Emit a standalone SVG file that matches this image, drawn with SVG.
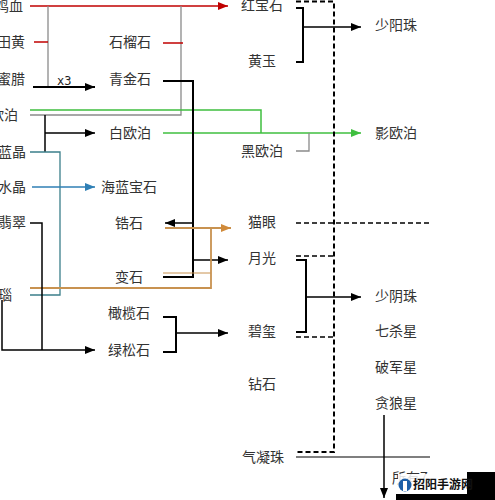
<svg xmlns="http://www.w3.org/2000/svg" width="495" height="500" viewBox="0 0 495 500">
<style>
text{font-family:"Noto Sans CJK SC","Noto Sans",sans-serif;font-size:14px;fill:#333;}
.l{text-anchor:end}
.c{text-anchor:middle}
.k{fill:none;stroke:#000;stroke-width:2}
.g{fill:none;stroke:#8a8a8a;stroke-width:1.3}
.r{fill:none;stroke:#c00000;stroke-width:1.5}
.gr{fill:none;stroke:#3fbf3f;stroke-width:1.5}
.bl{fill:none;stroke:#2f7fb5;stroke-width:1.5}
.tl{fill:none;stroke:#3b7f8a;stroke-width:1.3}
.tn{fill:none;stroke:#c89250;stroke-width:1.8}
.d{fill:none;stroke:#000;stroke-width:1.3;stroke-dasharray:5,3}
.dd{fill:none;stroke:#000;stroke-width:2;stroke-dasharray:5,3}
</style>
<defs>
<marker id="ak" viewBox="0 0 10 8" refX="10" refY="4" markerWidth="10" markerHeight="8" markerUnits="userSpaceOnUse" orient="auto"><path d="M0,0L10,4L0,8z" fill="#000"/></marker>
<marker id="ar" viewBox="0 0 10 8" refX="10" refY="4" markerWidth="10" markerHeight="8" markerUnits="userSpaceOnUse" orient="auto"><path d="M0,0L10,4L0,8z" fill="#c00000"/></marker>
<marker id="ag" viewBox="0 0 10 8" refX="10" refY="4" markerWidth="10" markerHeight="8" markerUnits="userSpaceOnUse" orient="auto"><path d="M0,0L10,4L0,8z" fill="#3fbf3f"/></marker>
<marker id="ab" viewBox="0 0 10 8" refX="10" refY="4" markerWidth="10" markerHeight="8" markerUnits="userSpaceOnUse" orient="auto"><path d="M0,0L10,4L0,8z" fill="#2f7fb5"/></marker>
<marker id="ao" viewBox="0 0 10 8" refX="10" refY="4" markerWidth="10" markerHeight="8" markerUnits="userSpaceOnUse" orient="auto"><path d="M0,0L10,4L0,8z" fill="#d08a3a"/></marker>
</defs>
<rect width="495" height="500" fill="#fff"/>
<g id="connectors">
<!-- red: 鸡血 -> 红宝石 -->
<path class="r" d="M30,6H228" marker-end="url(#ar)"/>
<path class="g" d="M48,6V87"/>
<path class="r" d="M34,42H48"/>
<path class="k" d="M33,87H95" marker-end="url(#ak)"/>
<text x="57" y="85" style="font-family:'DejaVu Sans Mono','Liberation Mono',monospace;font-size:12px;fill:#222">x3</text>
<path class="g" d="M30,115H181V6"/>
<path class="r" d="M163,43H183"/>
<!-- green 欧泊 -->
<path class="gr" d="M30,110H261V133"/>
<path class="gr" d="M163,133H361" marker-end="url(#ag)"/>
<path class="g" d="M296,151H309V133"/>
<!-- 欧泊 -> 白欧泊 -->
<path class="k" d="M45,115V152" style="stroke-width:1.5"/>
<path class="k" d="M45,133H95" style="stroke-width:1.5" marker-end="url(#ak)"/>
<!-- 蓝晶 -->
<path class="tl" d="M30,152H60V295H30"/>
<!-- 水晶 -> 海蓝宝石 -->
<path class="bl" d="M32,187H95" marker-end="url(#ab)"/>
<!-- 青金石 -->
<path class="k" d="M163,81H193V277H163"/>
<path class="k" d="M193,223H165" style="stroke-width:1.5" marker-end="url(#ak)"/>
<path class="k" d="M193,260H228" style="stroke-width:1.5" marker-end="url(#ak)"/>
<!-- tan: 玛瑙 / 锆石 / 变石 -->
<path class="tn" d="M30,288H211V228"/>
<path class="tn" d="M165,228H231" marker-end="url(#ao)"/>
<path class="tn" d="M163,273H211" style="stroke-width:1"/>
<!-- 翡翠 -->
<path class="k" d="M30,223H42V350" style="stroke-width:1.5"/>
<path class="k" d="M2,300V350H95" style="stroke-width:1.5" marker-end="url(#ak)"/>
<!-- 橄榄石 / 绿松石 -->
<path class="k" d="M163,317H176V352H163"/>
<path class="k" d="M176,333H228" style="stroke-width:1.5" marker-end="url(#ak)"/>
<!-- 红宝石/黄玉 -->
<path class="k" d="M296,8H303V62H296"/>
<path class="k" d="M303,27H361" style="stroke-width:1.5" marker-end="url(#ak)"/>
<!-- dashed -->
<path class="dd" d="M296,1.5H334V452H296"/>
<path class="d" d="M296,223H430"/>
<path class="d" d="M296,256H334"/>
<path class="d" d="M296,337H334"/>
<!-- 月光/碧玺 -->
<path class="k" d="M296,260H306V332H296"/>
<path class="k" d="M306,297H361" style="stroke-width:1.5" marker-end="url(#ak)"/>
<!-- 气凝珠 -->
<path class="g" d="M296,457H430" style="stroke:#555"/>
<!-- 贪狼星 down -->
<path class="k" d="M384,415V498" style="stroke-width:1.5" marker-end="url(#ak)"/>
</g>
<g id="n-jixue"><text class="l" x="23" y="11">鸡血</text></g>
<g id="n-tianhuang"><text class="l" x="25" y="47">田黄</text></g>
<g id="n-mila"><text class="l" x="25" y="84">蜜腊</text></g>
<g id="n-oubo"><text class="l" x="18" y="120">欧泊</text></g>
<g id="n-lanjing"><text class="l" x="26" y="157">蓝晶</text></g>
<g id="n-shuijing"><text class="l" x="26" y="192">水晶</text></g>
<g id="n-feicui"><text class="l" x="26" y="227">翡翠</text></g>
<g id="n-manao"><text class="l" x="12" y="300">玛瑙</text></g>
<g id="n-shiliushi"><text class="c" x="130" y="47">石榴石</text></g>
<g id="n-qingjinshi"><text class="c" x="130" y="84">青金石</text></g>
<g id="n-baioubo"><text class="c" x="130" y="138">白欧泊</text></g>
<g id="n-hailanbaoshi"><text class="c" x="129" y="192">海蓝宝石</text></g>
<g id="n-gaoshi"><text class="c" x="129" y="228">锆石</text></g>
<g id="n-bianshi"><text class="c" x="129" y="282">变石</text></g>
<g id="n-ganlanshi"><text class="c" x="129" y="318">橄榄石</text></g>
<g id="n-lvsongshi"><text class="c" x="129" y="355">绿松石</text></g>
<g id="n-hongbaoshi"><text class="c" x="262" y="10">红宝石</text></g>
<g id="n-huangyu"><text class="c" x="262" y="66">黄玉</text></g>
<g id="n-heioubo"><text class="c" x="262" y="156">黑欧泊</text></g>
<g id="n-maoyan"><text class="c" x="262" y="227">猫眼</text></g>
<g id="n-yueguang"><text class="c" x="262" y="263">月光</text></g>
<g id="n-bixi"><text class="c" x="262" y="336">碧玺</text></g>
<g id="n-zuanshi"><text class="c" x="262" y="389">钻石</text></g>
<g id="n-qiningzhu"><text class="c" x="263" y="462">气凝珠</text></g>
<g id="n-shaoyangzhu"><text class="c" x="396" y="30">少阳珠</text></g>
<g id="n-yingoubo"><text class="c" x="396" y="138">影欧泊</text></g>
<g id="n-shaoyinzhu"><text class="c" x="396" y="301">少阴珠</text></g>
<g id="n-qishaxing"><text class="c" x="396" y="336">七杀星</text></g>
<g id="n-pojunxing"><text class="c" x="396" y="372">破军星</text></g>
<g id="n-tanlangxing"><text class="c" x="396" y="408">贪狼星</text></g>
<g id="n-suoyou"><text x="392" y="483">所有7</text></g>
<g id="watermark">
<path d="M467,472H495V500H396V494H467z" fill="#000"/>
<rect x="398" y="474" width="69" height="20" fill="#fff" opacity="0.85"/>
<circle cx="405" cy="485" r="6.5" fill="#1d5fa8"/>
<rect x="403" y="481" width="4" height="10" fill="#fff"/>
<text x="413" y="489" style="font-size:12px;font-weight:bold;fill:#111">招阳手游网</text>
</g>
</svg>
